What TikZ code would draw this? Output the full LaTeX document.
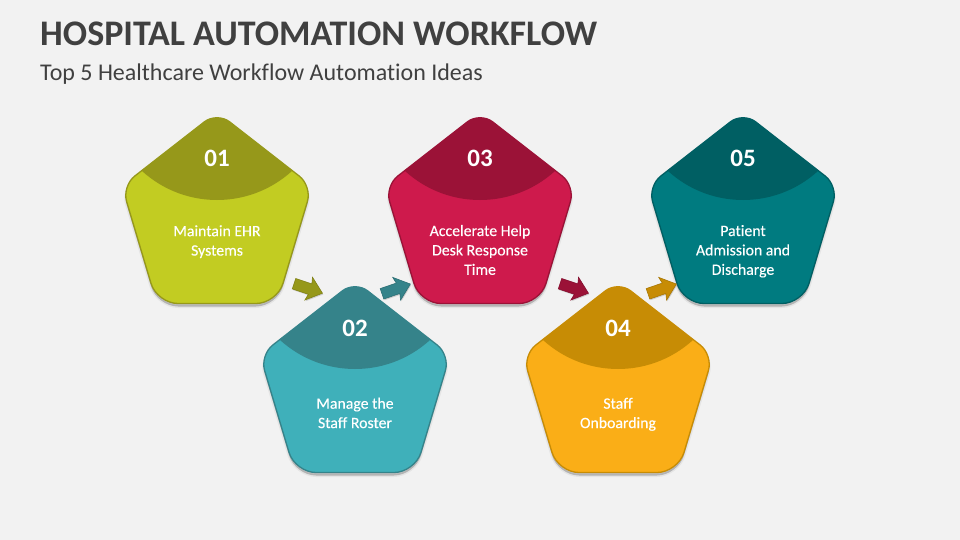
\documentclass[tikz,border=0pt]{standalone}
\usepackage{fontspec}
\setmainfont[Ligatures=CommonOff]{Carlito}
\newfontfamily\labelfont[Ligatures=CommonOff,FakeBold=0.25]{Carlito}
\definecolor{pagebg}{HTML}{F2F2F2}
\definecolor{inkgray}{HTML}{404040}
\definecolor{oliveB}{HTML}{C2CC22}\definecolor{oliveC}{HTML}{96981A}
\definecolor{aquaB}{HTML}{3FB0BA}\definecolor{aquaC}{HTML}{35838A}
\definecolor{redB}{HTML}{CE1A4C}\definecolor{redC}{HTML}{9B1237}
\definecolor{amberB}{HTML}{FAAE17}\definecolor{amberC}{HTML}{C78C05}
\definecolor{tealB}{HTML}{007B80}\definecolor{tealC}{HTML}{005F63}
\tikzset{
  x=1pt,y=-1pt,
  titletext/.style={anchor=west,inner sep=0pt,text=inkgray,font=\fontsize{36}{40}\selectfont\bfseries},
  subtext/.style={anchor=west,inner sep=0pt,text=inkgray,font=\fontsize{24}{28}\selectfont},
  numtext/.style={inner sep=0pt,text=white,font=\fontsize{25}{28}\selectfont\bfseries},
  labeltext/.style={inner sep=0pt,align=center,text=white,font=\fontsize{15.8}{19.4}\selectfont\labelfont},
  flowarrow/.style={line width=.6pt,line join=miter},
}
% #1 centre x, #2 y offset
\newcommand{\pentapath}[2]{(#1,#2+303.5) [rounded corners=21pt] -- (#1+60,#2+303.5) [rounded corners=16pt] -- (#1+95,#2+186) -- (#1,#2+112) -- (#1-95,#2+186) [rounded corners=21pt] -- (#1-60,#2+303.5) -- cycle}
% #3 body, #4 cap
\newcommand{\pentashape}[4]{%
  \begin{scope}[shift={(0,3)}]
    \fill[black,opacity=.07,line width=3pt,draw=black,draw opacity=.05] \pentapath{#1}{#2};
    \fill[black,opacity=.15] \pentapath{#1}{#2};
  \end{scope}
  \fill[#3] \pentapath{#1}{#2};
  \begin{scope}
    \clip \pentapath{#1}{#2};
    \fill[#4] (#1,#2+88.5) circle[radius=111.5];
  \end{scope}
  \draw[#4,line width=1.3pt] \pentapath{#1}{#2};
}
% #1 tail centre, #2 angle, #3 colour
\newcommand{\blockarrow}[3]{%
  \fill[black,opacity=.15,shift={(#1)},shift={(.8,1.2)},rotate=#2] (0,-5.5) -- (17,-5.5) -- (15.5,-12) -- (30,0) -- (15.5,12) -- (17,5.5) -- (0,5.5) -- cycle;
  \filldraw[flowarrow,fill=#3,draw=#3!85!black,shift={(#1)},rotate=#2] (0,-5.5) -- (17,-5.5) -- (15.5,-12) -- (30,0) -- (15.5,12) -- (17,5.5) -- (0,5.5) -- cycle;
}
\begin{document}
\begin{tikzpicture}
\useasboundingbox (0,0) rectangle (960,540);
\fill[pagebg] (0,0) rectangle (960,540);
\node[titletext] (title) at (40,34) {HOSPITAL AUTOMATION WORKFLOW};
\node[subtext] (subtitle) at (40,74.5) {Top 5 Healthcare Workflow Automation Ideas};

\pentashape{217}{0}{oliveB}{oliveC}
\pentashape{355}{169}{aquaB}{aquaC}
\pentashape{480}{0}{redB}{redC}
\pentashape{618}{169}{amberB}{amberC}
\pentashape{743}{0}{tealB}{tealC}

\blockarrow{294,283.7}{-18.5}{oliveC}
\blockarrow{382,293.8}{19}{aquaC}
\blockarrow{560,283.7}{-18.5}{redC}
\blockarrow{648,293.8}{19}{amberC}

\node[numtext] (n1) at (217,158) {01};
\node[numtext] (n2) at (355,328) {02};
\node[numtext] (n3) at (480,158) {03};
\node[numtext] (n4) at (618,328) {04};
\node[numtext] (n5) at (743,158) {05};
\node[labeltext] (t1) at (217,242) {\strut Maintain EHR\\Systems\strut};
\node[labeltext] (t2) at (355,414.5) {\strut Manage the\\Staff Roster\strut};
\node[labeltext] (t3) at (480,251.5) {\strut Accelerate Help\\Desk Response\\Time\strut};
\node[labeltext] (t4) at (618,414.5) {\strut Staff\\Onboarding\strut};
\node[labeltext] (t5) at (743,251.5) {\strut Patient\\Admission and\\Discharge\strut};
\end{tikzpicture}
\end{document}
